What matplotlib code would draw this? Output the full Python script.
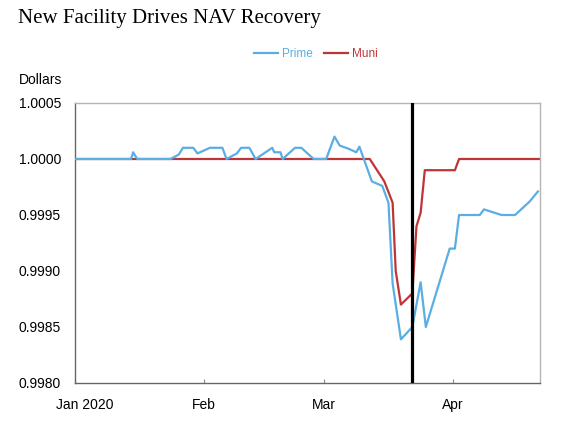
import matplotlib
matplotlib.use("Agg")
import matplotlib.pyplot as plt
import matplotlib.transforms as mtransforms
import pandas as pd

# (Prime and Muni money market fund NAVs)
prime_dates = ["2020-01-01", "2020-01-14 12:00", "2020-01-15", "2020-01-16",
               "2020-01-24", "2020-01-26", "2020-01-27", "2020-01-29 12:00",
               "2020-01-30 12:00", "2020-02-02 12:00", "2020-02-05 12:00",
               "2020-02-06 12:00", "2020-02-09", "2020-02-10", "2020-02-12",
               "2020-02-13 12:00", "2020-02-17 12:00", "2020-02-18",
               "2020-02-19 12:00", "2020-02-20", "2020-02-23", "2020-02-24 12:00",
               "2020-02-27 12:00", "2020-03-01 12:00", "2020-03-03 12:00",
               "2020-03-04 18:00", "2020-03-07", "2020-03-08 18:00",
               "2020-03-09 12:00", "2020-03-12 12:00", "2020-03-15",
               "2020-03-16 12:00", "2020-03-17 12:00", "2020-03-19 12:00",
               "2020-03-22 06:00", "2020-03-24 06:00", "2020-03-25 12:00",
               "2020-03-31 06:00", "2020-04-01 12:00", "2020-04-02 12:00",
               "2020-04-07 12:00", "2020-04-08 12:00", "2020-04-12 18:00",
               "2020-04-16", "2020-04-19 12:00", "2020-04-21 12:00"]
prime_values = [1.0000, 1.0000, 1.00006, 1.0000,
                1.0000, 1.00004, 1.0001, 1.0001,
                1.00005, 1.0001, 1.0001,
                1.0000, 1.00005, 1.0001, 1.0001,
                1.0000, 1.0001, 1.00006,
                1.00006, 1.0000, 1.0001, 1.0001,
                1.0000, 1.0000, 1.0002,
                1.00012, 1.00009, 1.00006,
                1.00011, 0.9998, 0.99976,
                0.99961, 0.99889, 0.99839,
                0.9985, 0.9989, 0.9985,
                0.9992, 0.9992, 0.9995,
                0.9995, 0.99955, 0.9995,
                0.9995, 0.99962, 0.99971]

muni_dates = ["2020-01-01", "2020-03-12", "2020-03-15 12:00", "2020-03-17 12:00",
              "2020-03-18 06:00", "2020-03-19 12:00", "2020-03-22 06:00",
              "2020-03-23 06:00", "2020-03-24 06:00", "2020-03-25 06:00",
              "2020-04-01 12:00", "2020-04-02 12:00", "2020-04-22"]
muni_values = [1.0000, 1.0000, 0.9998, 0.99961,
               0.9990, 0.9987, 0.9988,
               0.9994, 0.99952, 0.9999,
               0.9999, 1.0000, 1.0000]

facility_date = "2020-03-22 06:00"
y_ticks = [0.9980, 0.9985, 0.9990, 0.9995, 1.0000, 1.0005]
x_ticks = ["2020-01-01", "2020-02-01", "2020-03-01", "2020-04-01"]
x_labels = ["Jan 2020", "Feb", "Mar", "Apr"]

prime_color = "#5aaee3"
muni_color = "#bf3535"

plt.rcParams['font.family'] = ['Liberation Sans', 'DejaVu Sans']

fig = plt.figure(figsize=(5.8, 4.22), dpi=100)
ax = fig.add_axes([75 / 580, 39 / 422, 465 / 580, 280 / 422])

# muni first so prime sits on top where they overlap at 1.0000
ax.plot(pd.to_datetime(muni_dates, format="mixed"), muni_values, color=muni_color, lw=1.6, label="Muni", zorder=2)
ax.plot(pd.to_datetime(prime_dates, format="mixed"), prime_values, color=prime_color, lw=1.6, label="Prime", zorder=3)
ax.axvline(pd.Timestamp(facility_date), color="black", lw=2.3, zorder=4)

ax.set_xlim(pd.Timestamp("2020-01-01"), pd.Timestamp("2020-04-22"))
ax.set_ylim(0.9980, 1.0005)
ax.set_yticks(y_ticks)
ax.set_yticklabels(["%.4f" % v for v in y_ticks])
ax.set_xticks(pd.to_datetime(x_ticks))
ax.set_xticklabels(x_labels)

ax.tick_params(axis="y", length=0, pad=10, labelsize=10)
ax.tick_params(axis="x", direction="in", length=3, color="#888888", pad=11, labelsize=10)
# first label sits a bit right of the axis corner
lbl = ax.get_xticklabels()[0]
lbl.set_transform(lbl.get_transform() + mtransforms.ScaledTranslation(7 / 72, 0, fig.dpi_scale_trans))

for side in ["top", "right"]:
    ax.spines[side].set_color("#b5b5b5")
for side in ["left", "bottom"]:
    ax.spines[side].set_color("#666666")
for s in ax.spines.values():
    s.set_linewidth(1.0)

fig.text(18 / 580, 1 - 18 / 422, "New Facility Drives NAV Recovery",
         family=["Liberation Serif", "DejaVu Serif"], fontsize=15, va="center", ha="left")
fig.text(19 / 580, 1 - 80 / 422, "Dollars", fontsize=10, va="center", ha="left")

handles, labels = ax.get_legend_handles_labels()
leg = fig.legend(handles[::-1], labels[::-1], loc="center", bbox_to_anchor=(316 / 580, 1 - 54 / 422), ncol=2,
                 frameon=False, fontsize=8.5, handlelength=2.0, handletextpad=0.35,
                 columnspacing=1.0, labelcolor="linecolor")

fig.savefig("out.png", dpi=100)
